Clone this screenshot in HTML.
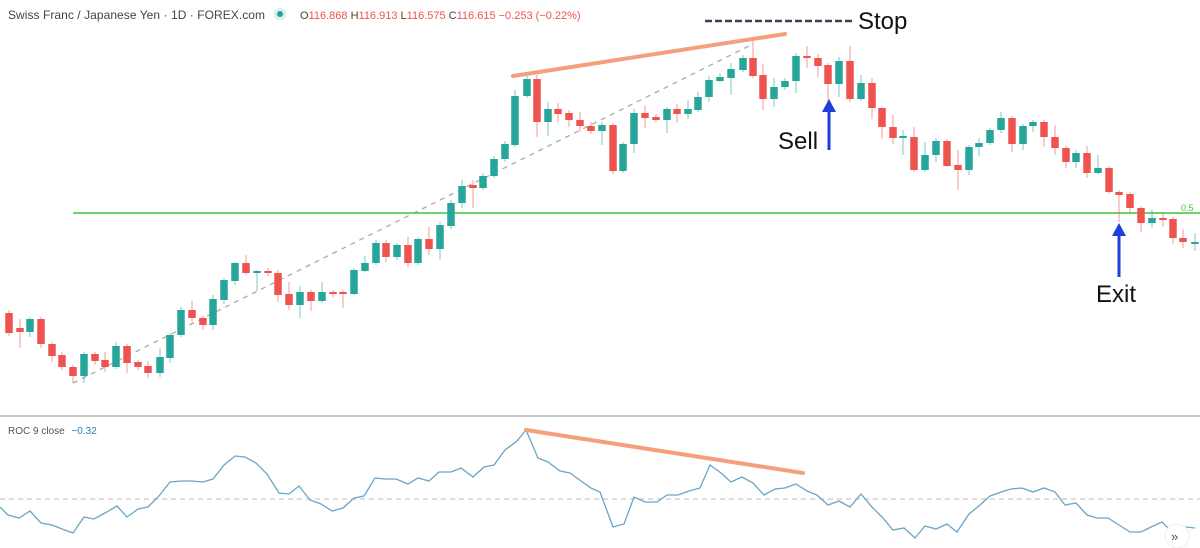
<!DOCTYPE html>
<html><head><meta charset="utf-8"><style>
body{margin:0;background:#fff;width:1200px;height:548px;overflow:hidden;font-family:"Liberation Sans",sans-serif}
svg{position:absolute;left:0;top:0}
</style></head><body>
<svg id="s" width="1200" height="548" xmlns="http://www.w3.org/2000/svg">
<line x1="0" y1="416" x2="1200" y2="416" stroke="#c8c8c8" stroke-width="2"/>
<line x1="0" y1="499" x2="1200" y2="499" stroke="#bbb" stroke-dasharray="5,4"/>
<line x1="73" y1="383" x2="753" y2="44" stroke="#aaa" stroke-width="1.3" stroke-dasharray="5,5"/>
<line x1="73" y1="213" x2="1200" y2="213" stroke="#3cc43c" stroke-width="1.5"/>
<text x="1181" y="211" font-size="9" fill="#3cc43c">0.5</text>
<g id="c"></g>
<polyline fill="none" stroke="#6aa5c8" stroke-width="1.3" points="0,507 8,515 19,518 30,511 41,523 52,525 62,529 73,533 84,517 94,519 105,513 117,506 127,517 138,509 148,507 159,496 170,482 181,481 191,481 203,482 213,479 224,465 235,456 245,457 256,463 267,474 279,493 289,494 299,486 310,500 321,504 332,511 343,508 354,498 364,496 375,478 385,479 396,479 408,484 418,478 429,481 439,472 451,472 461,468 473,477 484,467 494,465 505,450 517,441 526,430 538,458 548,462 560,471 570,473 581,481 591,488 600,492 613,527 624,524 634,497 645,502 657,502 667,495 678,495 689,491 700,488 710,465 721,473 731,482 742,477 753,483 764,495 775,489 785,488 796,484 807,491 817,495 828,505 839,501 850,507 861,494 872,507 882,517 893,530 904,528 915,538 925,526 936,529 947,524 957,532 969,514 980,505 990,496 1001,492 1011,489 1022,488 1033,492 1044,488 1055,492 1065,505 1076,503 1087,515 1097,518 1108,518 1119,525 1130,532 1141,532 1151,527 1162,522 1172,532 1186,527 1195,528"/>
<line x1="513" y1="76" x2="785" y2="34" stroke="#f4a07e" stroke-width="4" stroke-linecap="round"/>
<line x1="526" y1="430" x2="803" y2="473" stroke="#f4a07e" stroke-width="4" stroke-linecap="round"/>
<line x1="705" y1="21" x2="852" y2="21" stroke="#3a4256" stroke-width="2.5" stroke-dasharray="7,3"/>
<text x="858" y="29" font-size="24" fill="#111">Stop</text>
<text x="778" y="149" font-size="24" fill="#111">Sell</text>
<text x="1096" y="302" font-size="24" fill="#111">Exit</text>
<line x1="829" y1="150" x2="829" y2="110" stroke="#1f3fd8" stroke-width="3"/>
<polygon points="822,112 836,112 829,99" fill="#1f3fd8"/>
<line x1="1119" y1="277" x2="1119" y2="234" stroke="#1f3fd8" stroke-width="3"/>
<polygon points="1112,236 1126,236 1119,223" fill="#1f3fd8"/>
<text x="8" y="19" font-size="12" fill="#444" textLength="257">Swiss Franc / Japanese Yen · 1D · FOREX.com</text>
<circle cx="280" cy="14" r="6" fill="#d6f0ec"/><circle cx="280" cy="14" r="3" fill="#26a69a"/>
<text x="300" y="19" font-size="11" fill="#444">O<tspan fill="#ef5350">116.868</tspan> H<tspan fill="#ef5350">116.913</tspan> L<tspan fill="#ef5350">116.575</tspan> C<tspan fill="#ef5350">116.615 −0.253 (−0.22%)</tspan></text>
<text x="8" y="434" font-size="10" fill="#555">ROC 9 close <tspan fill="#2f7fb5" dx="4">−0.32</tspan></text>
<circle cx="1177" cy="536" r="12" fill="#fff" stroke="#eee"/>
<text x="1171" y="541" font-size="13" fill="#555">»</text>
</svg>
<script>
var G="#26a69a",R="#ef5350";
var d=[[9,313,333,310,336,R],[20,328,332,319,348,R],[30,319,332,317,337,G],[41,319,344,317,348,R],[52,344,356,342,362,R],[62,355,367,352,370,R],[73,367,376,365,383,R],[84,354,376,352,383,G],[95,354,361,352,365,R],[105,360,367,352,372,R],[116,346,367,342,369,G],[127,346,363,344,373,R],[138,362,367,360,370,R],[148,366,373,361,378,R],[160,357,373,348,377,G],[170,335,358,333,363,G],[181,310,335,307,337,G],[192,310,318,301,322,R],[203,318,325,316,330,R],[213,299,325,295,330,G],[224,280,300,278,304,G],[235,263,281,262,285,G],[246,263,273,255,275,R],[257,271,273,270,291,G],[268,271,273,268,276,R],[278,273,295,270,302,R],[289,294,305,282,310,R],[300,292,305,286,318,G],[311,292,301,290,311,R],[322,292,301,282,303,G],[333,292,294,290,297,R],[343,292,294,290,308,R],[354,270,294,268,295,G],[365,263,271,256,272,G],[376,243,263,240,265,G],[386,243,257,240,262,R],[397,245,257,243,260,G],[408,245,263,237,267,R],[418,239,263,237,265,G],[429,239,249,227,255,R],[440,225,249,222,260,G],[451,203,226,200,229,G],[462,186,203,180,208,G],[473,185,188,180,208,R],[483,176,188,173,190,G],[494,159,176,156,178,G],[505,144,159,141,162,G],[515,96,145,90,147,G],[527,79,96,75,98,G],[537,79,122,75,137,R],[548,109,122,102,136,G],[558,109,114,103,123,R],[569,113,120,110,127,R],[580,120,126,112,132,R],[591,126,131,122,134,R],[602,125,131,122,145,G],[613,125,171,123,174,R],[623,144,171,142,173,G],[634,113,144,109,153,G],[645,113,118,105,128,R],[656,117,120,114,122,R],[667,109,120,107,133,G],[677,109,114,104,123,R],[688,109,114,100,119,G],[698,97,110,92,112,G],[709,80,97,76,102,G],[720,77,81,73,82,G],[731,69,78,63,95,G],[743,58,70,55,72,G],[753,58,76,40,78,R],[763,75,99,64,110,R],[774,87,99,78,107,G],[785,81,87,78,90,G],[796,56,81,53,93,G],[807,56,58,46,68,R],[818,58,66,54,77,R],[828,65,84,63,102,R],[839,61,84,57,97,G],[850,61,99,46,102,R],[861,83,99,75,101,G],[872,83,108,78,119,R],[882,108,127,107,139,R],[893,127,138,115,144,R],[903,136,138,130,155,G],[914,137,170,127,172,R],[925,155,170,142,172,G],[936,141,155,138,162,G],[947,141,166,139,167,R],[958,165,170,150,190,R],[969,147,170,145,175,G],[979,143,147,138,156,G],[990,130,143,128,145,G],[1001,118,130,112,133,G],[1012,118,144,116,152,R],[1023,126,144,124,150,G],[1033,122,126,120,132,G],[1044,122,137,120,147,R],[1055,137,148,125,155,R],[1066,148,162,146,168,R],[1076,153,162,150,168,G],[1087,153,173,146,178,R],[1098,168,173,155,174,G],[1109,168,192,166,194,R],[1119,192,195,190,222,R],[1130,194,208,192,213,R],[1141,208,223,206,232,R],[1152,218,223,210,228,G],[1163,218,220,212,227,R],[1173,219,238,217,244,R],[1183,238,242,229,248,R],[1195,242,243,233,251,G]];
var h="";d.forEach(function(c){var t=c[1],b=Math.max(c[2],c[1]+2);
h+='<line x1="'+c[0]+'" x2="'+c[0]+'" y1="'+c[3]+'" y2="'+c[4]+'" stroke="'+c[5]+'" stroke-opacity="0.6" stroke-width="1"/>';
h+='<rect x="'+(c[0]-3.75)+'" y="'+t+'" width="7.5" height="'+(b-t)+'" fill="'+c[5]+'"/>';});
document.getElementById("c").innerHTML=h;
</script>
</body></html>
